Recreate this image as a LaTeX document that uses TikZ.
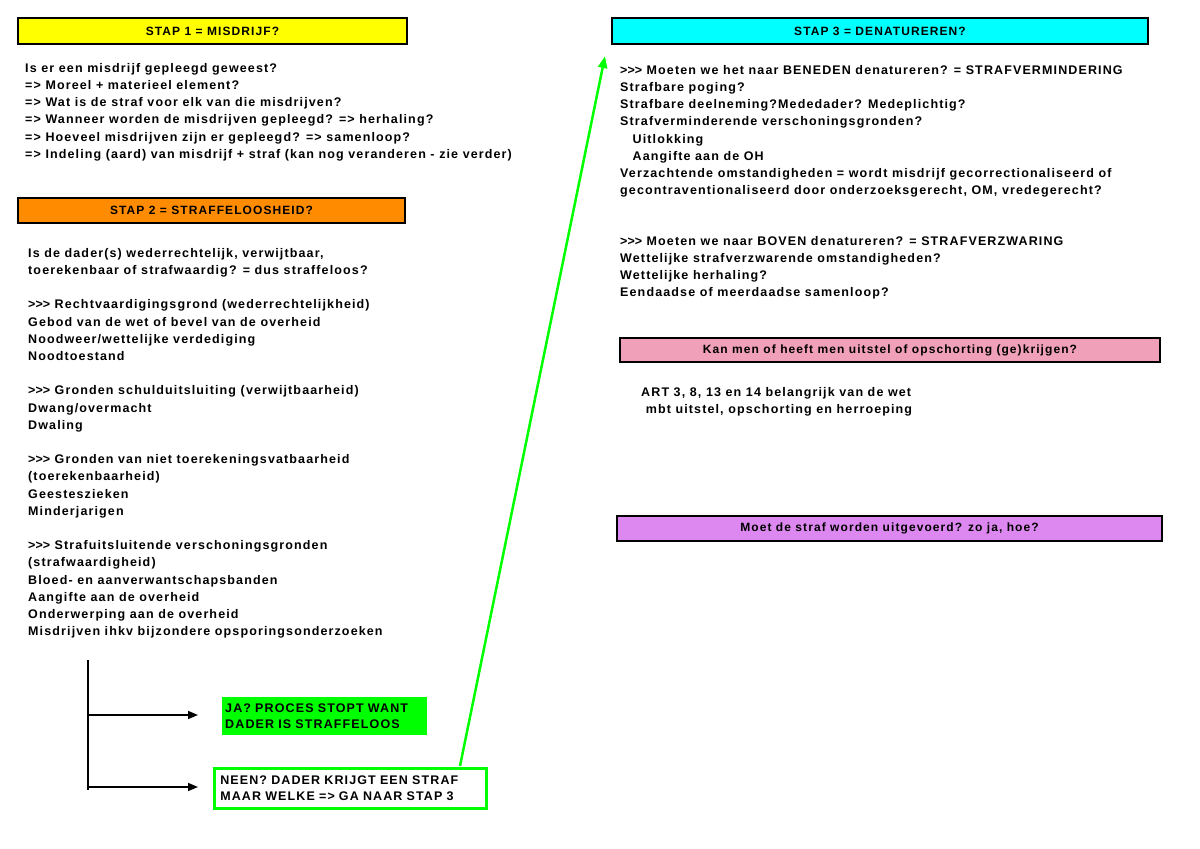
\documentclass[tikz,border=0pt]{standalone}
\usepackage{fontspec}
\setmainfont{Liberation Sans}[LetterSpace=9]
\usetikzlibrary{arrows.meta}
\definecolor{gyel}{HTML}{FFFF00}
\definecolor{gora}{HTML}{FF8C00}
\definecolor{gcya}{HTML}{00FFFF}
\definecolor{gpnk}{HTML}{F0A0B8}
\definecolor{gpur}{HTML}{DD88F0}
\definecolor{ggrn}{HTML}{00FF00}
\newcommand\ggg{>\kern0pt>\kern0pt>}
\begin{document}
\begin{tikzpicture}[x=1pt,y=-1pt,
  hdr/.style={draw=black,line width=2.5pt,font=\bfseries\fontsize{12}{14}\selectfont,inner sep=0pt},
  txt/.style={anchor=north west,align=left,inner sep=0pt,font=\bfseries\fontsize{12.5}{17.2}\selectfont},
  arr/.style={-{Triangle[length=10pt,width=8pt]},line width=1.6pt}]
\useasboundingbox (0,0) rectangle (1200,849);
\node[hdr,fill=gyel,minimum width=389pt,minimum height=26pt] (s1) at (212.5,31) {STAP 1 = MISDRIJF?};
\node[hdr,fill=gora,minimum width=387pt,minimum height=25pt] (s2) at (211.5,210.5) {STAP 2 = STRAFFELOOSHEID?};
\node[hdr,fill=gcya,minimum width=536pt,minimum height=26pt] (s3) at (880,31) {STAP 3 = DENATUREREN?};
\node[hdr,fill=gpnk,minimum width=540pt,minimum height=24pt] (pk) at (890,350) {Kan men of heeft men uitstel of opschorting (ge)krijgen?};
\node[hdr,fill=gpur,minimum width=545pt,minimum height=25pt] (pu) at (889.5,528.5) {Moet de straf worden uitgevoerd? zo ja, hoe?};

\node[txt] (t1) at (25,63) {Is er een misdrijf gepleegd geweest?\\
=> Moreel + materieel element?\\
=> Wat is de straf voor elk van die misdrijven?\\
=> Wanneer worden de misdrijven gepleegd? => herhaling?\\
=> Hoeveel misdrijven zijn er gepleegd? => samenloop?\\
=> Indeling (aard) van misdrijf + straf (kan nog veranderen - zie verder)};

\node[txt] (t2) at (28,248) {Is de dader(s) wederrechtelijk, verwijtbaar,\\
toerekenbaar of strafwaardig? = dus straffeloos?\\[17.2pt]
\ggg{} Rechtvaardigingsgrond (wederrechtelijkheid)\\
Gebod van de wet of bevel van de overheid\\
Noodweer/wettelijke verdediging\\
Noodtoestand\\[17.2pt]
\ggg{} Gronden schulduitsluiting (verwijtbaarheid)\\
Dwang/overmacht\\
Dwaling\\[17.2pt]
\ggg{} Gronden van niet toerekeningsvatbaarheid\\
(toerekenbaarheid)\\
Geesteszieken\\
Minderjarigen\\[17.2pt]
\ggg{} Strafuitsluitende verschoningsgronden\\
(strafwaardigheid)\\
Bloed- en aanverwantschapsbanden\\
Aangifte aan de overheid\\
Onderwerping aan de overheid\\
Misdrijven ihkv bijzondere opsporingsonderzoeken};

\node[txt] (t3) at (620,65) {\ggg{} Moeten we het naar BENEDEN denatureren? = STRAFVERMINDERING\\
Strafbare poging?\\
Strafbare deelneming?Mededader? Medeplichtig?\\
Strafverminderende verschoningsgronden?\\
\quad Uitlokking\\
\quad Aangifte aan de OH\\
Verzachtende omstandigheden = wordt misdrijf gecorrectionaliseerd of\\
gecontraventionaliseerd door onderzoeksgerecht, OM, vredegerecht?};

\node[txt] (t4) at (620,236) {\ggg{} Moeten we naar BOVEN denatureren? = STRAFVERZWARING\\
Wettelijke strafverzwarende omstandigheden?\\
Wettelijke herhaling?\\
Eendaadse of meerdaadse samenloop?};

\node[txt] (t5) at (641,387) {ART 3, 8, 13 en 14  belangrijk van de wet\\
\ mbt uitstel, opschorting en herroeping};

\node[txt,fill=ggrn,text width=199pt,minimum height=38pt,inner xsep=3pt,inner ysep=4pt,font=\bfseries\fontsize{12.5}{16}\selectfont] (ja) at (222,697) {JA? PROCES STOPT WANT\\DADER IS STRAFFELOOS};
\node[txt,draw=ggrn,line width=2.5pt,text width=260pt,minimum height=40pt,inner xsep=6pt,inner ysep=6pt,font=\bfseries\fontsize{12.5}{16}\selectfont] (ne) at (213,767) {NEEN? DADER KRIJGT EEN STRAF\\MAAR WELKE => GA NAAR STAP 3};

\coordinate (vt) at (88,660);
\coordinate (vb) at (88,790);
\coordinate (h1) at (88,715);
\coordinate (h2) at (88,787);
\coordinate (e1) at (198,715);
\coordinate (e2) at (198,787);
\coordinate (gs) at (460,766);
\coordinate (ge) at (605,56);
\draw[line width=1.6pt] (vt) -- (vb);
\draw[arr] (h1) -- (e1);
\draw[arr] (h2) -- (e2);
\draw[-{Triangle[length=12pt,width=9pt]},line width=2.5pt,draw=ggrn,fill=ggrn] (gs) -- (ge);
\end{tikzpicture}
\end{document}
